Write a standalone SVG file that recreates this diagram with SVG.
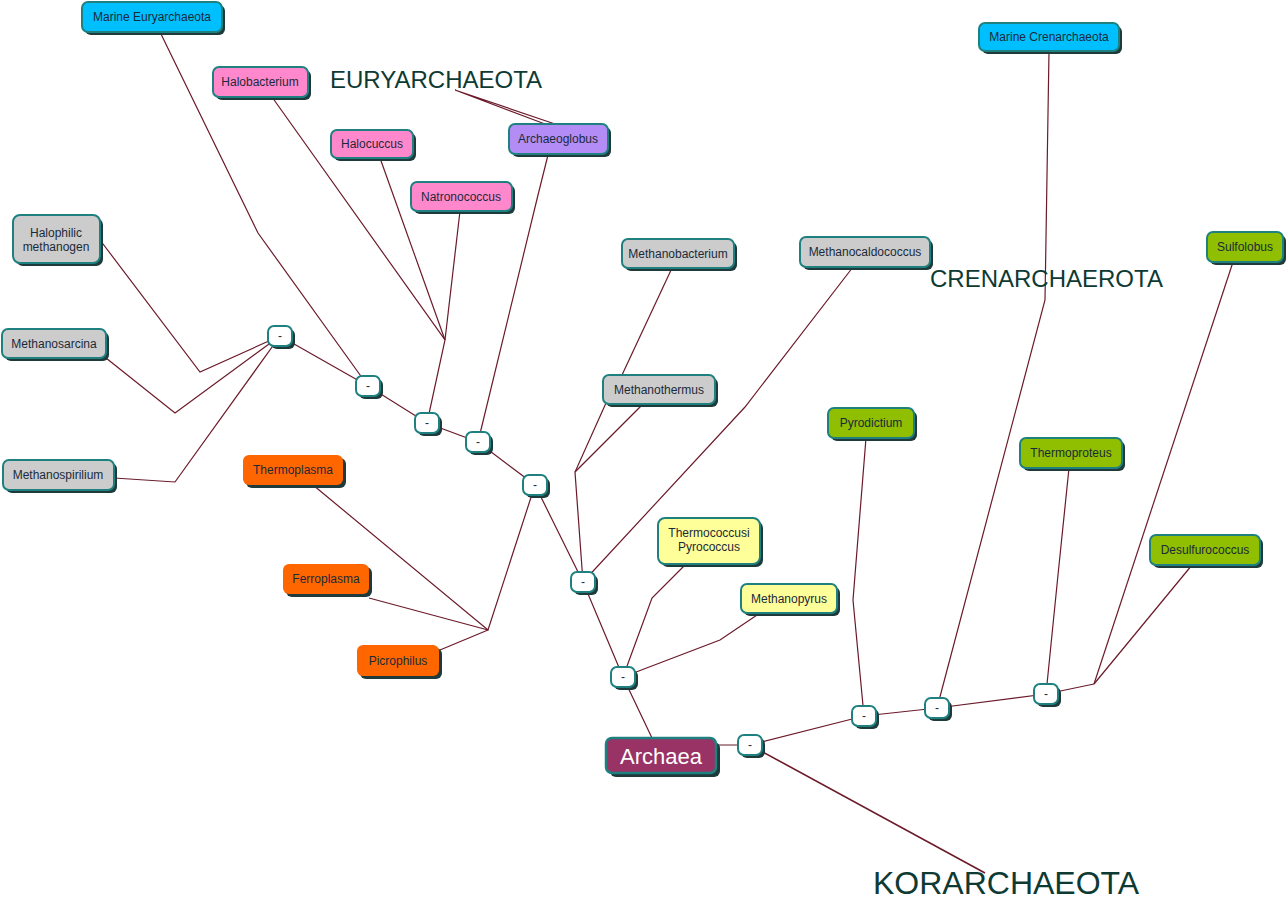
<svg xmlns="http://www.w3.org/2000/svg" width="1288" height="900" viewBox="0 0 1288 900">
<style>
.e{fill:none;stroke:#6b1a2a;stroke-width:1.2}
.sh{fill:#1e3a3a}
.b{stroke:#1f8080;stroke-width:2}
.t{font-family:"Liberation Sans",Arial,sans-serif;font-size:12px;fill:#1a2a3a;text-anchor:middle}
.big{font-family:"Liberation Sans",Arial,sans-serif;fill:#0e3a34}
.gray{fill:#cccccc}.cy{fill:#00bfff}.pk{fill:#ff88cc}.pu{fill:#b38cf5}.or{fill:#ff6600}.ye{fill:#ffff99}.gr{fill:#8fbf00}.w{fill:#ffffff}
</style>
<rect width="1288" height="900" fill="#ffffff"/>
<g id="connectors">
<polyline class="e" points="652,738 623,677 583,582 535,485 478,442 427,423 368,386 280,336"/>
<polyline class="e" points="716,745 750,745 864,716 937,708 1046,694 1094,684"/>
<line class="e" x1="750" y1="745" x2="985" y2="873" style="stroke-width:1.6"/>
<polyline class="e" points="280,336 200,372 100,240"/>
<polyline class="e" points="280,336 175,413 106,358"/>
<polyline class="e" points="280,336 175,482 114,478"/>
<polyline class="e" points="368,386 258,233 160,32"/>
<polyline class="e" points="427,423 445,340 272,97"/>
<polyline class="e" points="445,340 380,158"/>
<polyline class="e" points="445,340 460,211"/>
<polyline class="e" points="478,442 538,195 548,155"/>
<polyline class="e" points="555,124 455,90 545,124"/>
<polyline class="e" points="535,485 488,630 313,485"/>
<polyline class="e" points="488,630 369,598"/>
<polyline class="e" points="488,630 440,650"/>
<polyline class="e" points="583,582 575,472 606,403"/>
<polyline class="e" points="575,472 643,404"/>
<polyline class="e" points="622,375 672,268"/>
<polyline class="e" points="583,582 745,407 853,267"/>
<polyline class="e" points="623,677 652,598 685,565"/>
<polyline class="e" points="623,677 720,640 760,613"/>
<polyline class="e" points="864,716 853,600 866,438"/>
<polyline class="e" points="937,708 1045,300 1049,51"/>
<polyline class="e" points="1046,694 1058,575 1069,468"/>
<polyline class="e" points="1094,684 1233,262"/>
<polyline class="e" points="1094,684 1192,565"/>
</g>
<g id="n-marine-eury"><rect class="sh" x="85" y="5" width="140" height="30" rx="6"/><rect class="b cy" x="82" y="2" width="140" height="30" rx="6"/><text class="t" x="152" y="21">Marine Euryarchaeota</text></g>
<g id="n-halobacterium"><rect class="sh" x="216" y="70" width="95" height="30" rx="6"/><rect class="b pk" x="213" y="67" width="95" height="30" rx="6"/><text class="t" x="260" y="86">Halobacterium</text></g>
<g id="n-halocuccus"><rect class="sh" x="334" y="133" width="82" height="28" rx="6"/><rect class="b pk" x="331" y="130" width="82" height="28" rx="6"/><text class="t" x="372" y="148">Halocuccus</text></g>
<g id="n-natronococcus"><rect class="sh" x="414" y="185" width="101" height="29" rx="6"/><rect class="b pk" x="411" y="182" width="101" height="29" rx="6"/><text class="t" x="461" y="201">Natronococcus</text></g>
<g id="n-archaeoglobus"><rect class="sh" x="512" y="127" width="99" height="30" rx="6"/><rect class="b pu" x="509" y="124" width="99" height="30" rx="6"/><text class="t" x="558" y="143">Archaeoglobus</text></g>
<g id="n-halophilic"><rect class="sh" x="16" y="218" width="87" height="48" rx="7"/><rect class="b gray" x="13" y="215" width="87" height="48" rx="7"/><text class="t" x="56" y="237">Halophilic</text><text class="t" x="56" y="251">methanogen</text></g>
<g id="n-methanosarcina"><rect class="sh" x="5" y="332" width="104" height="29" rx="6"/><rect class="b gray" x="2" y="329" width="104" height="29" rx="6"/><text class="t" x="54" y="348">Methanosarcina</text></g>
<g id="n-methanospirilium"><rect class="sh" x="6" y="463" width="111" height="30" rx="6"/><rect class="b gray" x="3" y="460" width="111" height="30" rx="6"/><text class="t" x="58" y="479">Methanospirilium</text></g>
<g id="n-methanobacterium"><rect class="sh" x="625" y="242" width="112" height="29" rx="6"/><rect class="b gray" x="622" y="239" width="112" height="29" rx="6"/><text class="t" x="678" y="258">Methanobacterium</text></g>
<g id="n-methanocaldococcus"><rect class="sh" x="803" y="240" width="130" height="30" rx="6"/><rect class="b gray" x="800" y="237" width="130" height="30" rx="6"/><text class="t" x="865" y="256">Methanocaldococcus</text></g>
<g id="n-methanothermus"><rect class="sh" x="606" y="378" width="112" height="29" rx="6"/><rect class="b gray" x="603" y="375" width="112" height="29" rx="6"/><text class="t" x="659" y="394">Methanothermus</text></g>
<g id="n-thermoplasma"><rect class="sh" x="246" y="458" width="100" height="30" rx="6"/><rect class="or" x="243" y="455" width="100" height="30" rx="6"/><text class="t" x="293" y="474">Thermoplasma</text></g>
<g id="n-ferroplasma"><rect class="sh" x="286" y="567" width="86" height="30" rx="6"/><rect class="or" x="283" y="564" width="86" height="30" rx="6"/><text class="t" x="326" y="583">Ferroplasma</text></g>
<g id="n-picrophilus"><rect class="sh" x="360" y="648" width="82" height="31" rx="6"/><rect class="or" x="357" y="645" width="82" height="31" rx="6"/><text class="t" x="398" y="665">Picrophilus</text></g>
<g id="n-thermococcus"><rect class="sh" x="661" y="521" width="102" height="46" rx="7"/><rect class="b ye" x="658" y="518" width="102" height="46" rx="7"/><text class="t" x="709" y="537">Thermococcusi</text><text class="t" x="709" y="551">Pyrococcus</text></g>
<g id="n-methanopyrus"><rect class="sh" x="744" y="587" width="96" height="29" rx="6"/><rect class="b ye" x="741" y="584" width="96" height="29" rx="6"/><text class="t" x="789" y="603">Methanopyrus</text></g>
<g id="n-pyrodictium"><rect class="sh" x="831" y="411" width="86" height="30" rx="6"/><rect class="b gr" x="828" y="408" width="86" height="30" rx="6"/><text class="t" x="871" y="427">Pyrodictium</text></g>
<g id="n-thermoproteus"><rect class="sh" x="1023" y="441" width="102" height="30" rx="6"/><rect class="b gr" x="1020" y="438" width="102" height="30" rx="6"/><text class="t" x="1071" y="457">Thermoproteus</text></g>
<g id="n-sulfolobus"><rect class="sh" x="1210" y="235" width="76" height="30" rx="6"/><rect class="b gr" x="1207" y="232" width="76" height="30" rx="6"/><text class="t" x="1245" y="251">Sulfolobus</text></g>
<g id="n-desulfurococcus"><rect class="sh" x="1153" y="538" width="110" height="30" rx="6"/><rect class="b gr" x="1150" y="535" width="110" height="30" rx="6"/><text class="t" x="1205" y="554">Desulfurococcus</text></g>
<g id="n-marine-cren"><rect class="sh" x="982" y="26" width="140" height="28" rx="6"/><rect class="b cy" x="979" y="23" width="140" height="28" rx="6"/><text class="t" x="1049" y="41">Marine Crenarchaeota</text></g>
<g id="n-archaea"><rect class="sh" x="610" y="742" width="110" height="35" rx="6"/><rect x="606" y="738" width="110" height="35" rx="6" fill="#993366" stroke="#1f8080" stroke-width="2.5"/><text x="661" y="764" text-anchor="middle" font-family="Liberation Sans,Arial,sans-serif" font-size="22" fill="#ffffff">Archaea</text></g>
<g id="small-nodes">
<g id="s1"><rect class="sh" x="271" y="329" width="24" height="20" rx="6"/><rect class="b w" x="268" y="326" width="24" height="20" rx="6"/><text class="t" x="280" y="340">-</text></g>
<g id="s2"><rect class="sh" x="359" y="379" width="24" height="20" rx="6"/><rect class="b w" x="356" y="376" width="24" height="20" rx="6"/><text class="t" x="368" y="390">-</text></g>
<g id="s3"><rect class="sh" x="418" y="416" width="24" height="20" rx="6"/><rect class="b w" x="415" y="413" width="24" height="20" rx="6"/><text class="t" x="427" y="427">-</text></g>
<g id="s4"><rect class="sh" x="469" y="435" width="24" height="20" rx="6"/><rect class="b w" x="466" y="432" width="24" height="20" rx="6"/><text class="t" x="478" y="446">-</text></g>
<g id="s5"><rect class="sh" x="526" y="478" width="24" height="20" rx="6"/><rect class="b w" x="523" y="475" width="24" height="20" rx="6"/><text class="t" x="535" y="489">-</text></g>
<g id="s6"><rect class="sh" x="574" y="575" width="24" height="20" rx="6"/><rect class="b w" x="571" y="572" width="24" height="20" rx="6"/><text class="t" x="583" y="586">-</text></g>
<g id="s7"><rect class="sh" x="614" y="670" width="24" height="20" rx="6"/><rect class="b w" x="611" y="667" width="24" height="20" rx="6"/><text class="t" x="623" y="681">-</text></g>
<g id="s8"><rect class="sh" x="741" y="738" width="24" height="20" rx="6"/><rect class="b w" x="738" y="735" width="24" height="20" rx="6"/><text class="t" x="750" y="749">-</text></g>
<g id="s9"><rect class="sh" x="855" y="709" width="24" height="20" rx="6"/><rect class="b w" x="852" y="706" width="24" height="20" rx="6"/><text class="t" x="864" y="720">-</text></g>
<g id="s10"><rect class="sh" x="928" y="701" width="24" height="20" rx="6"/><rect class="b w" x="925" y="698" width="24" height="20" rx="6"/><text class="t" x="937" y="712">-</text></g>
<g id="s11"><rect class="sh" x="1037" y="687" width="24" height="20" rx="6"/><rect class="b w" x="1034" y="684" width="24" height="20" rx="6"/><text class="t" x="1046" y="698">-</text></g>
</g>
<g id="labels">
<text class="big" x="330" y="88" font-size="24">EURYARCHAEOTA</text>
<text class="big" x="930" y="287" font-size="24">CRENARCHAEROTA</text>
<text class="big" x="873" y="894" font-size="32">KORARCHAEOTA</text>
</g>
</svg>
